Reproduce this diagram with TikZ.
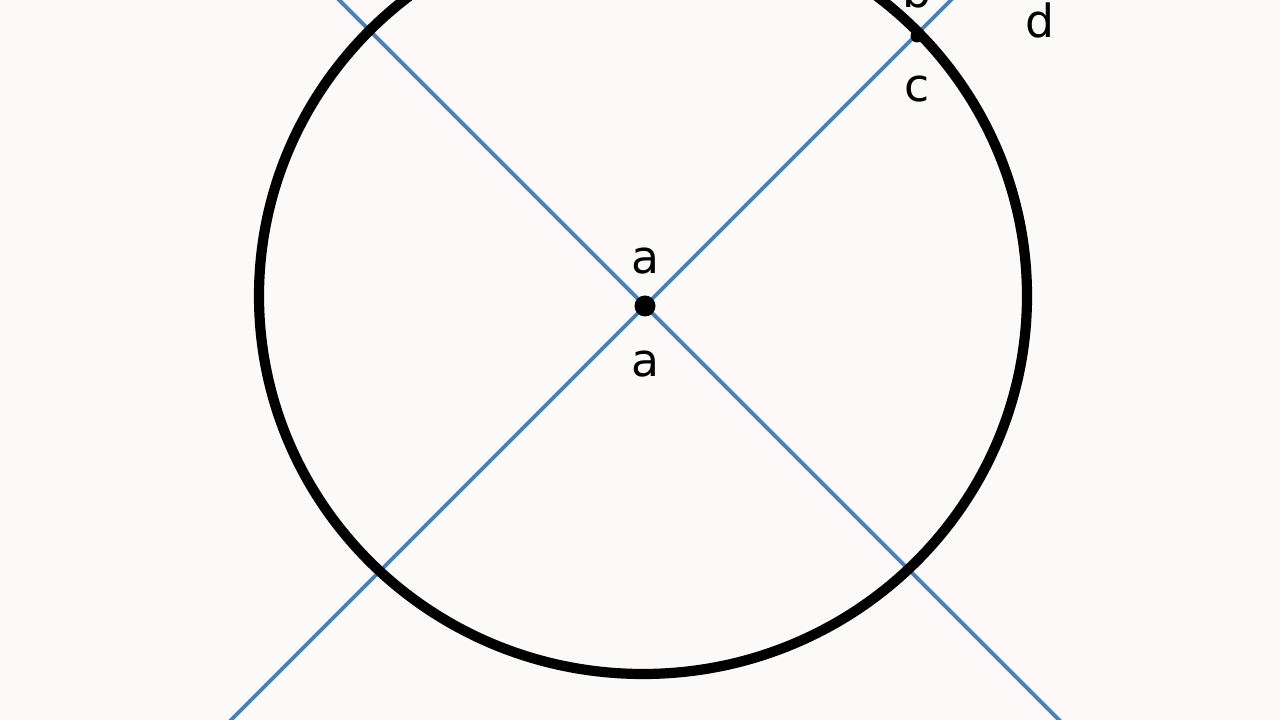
\documentclass[tikz,border=0pt]{standalone}
\usepackage{fontspec}
\setmainfont{DejaVu Sans}
\usetikzlibrary{calc}
\usetikzlibrary{positioning}
\definecolor{lineblue}{RGB}{74,128,186}
\definecolor{paper}{RGB}{251,250,249}

\begin{document}
\begin{tikzpicture}[
    lbl/.style={font=\fontsize{13}{15}\selectfont, inner sep=0pt},
    dot/.style={circle, fill=black, inner sep=0pt, minimum size=#1},
    ray/.style={lineblue, line width=1.1pt}]
    \fill[paper] (-6.45,-4.14) rectangle (6.35,3.06);
    \useasboundingbox (-6.45,-4.14) rectangle (6.35,3.06);
    \clip (-6.45,-4.14) rectangle (6.35,3.06);
    % the two rays through the centre point
    \coordinate (SW) at (-4.6,-4.6);
    \coordinate (NE) at (3.5,3.5);
    \coordinate (NW) at (-3.5,3.5);
    \coordinate (SE) at (4.6,-4.6);
    \draw[ray] (SW) -- (NE);
    \draw[ray] (NW) -- (SE);
    \draw[line width=2.9pt] (-0.02,0.10) ellipse (3.84 and 3.78);
    \node[dot=2.1mm] (O) at (0,0) {};
    \node[lbl, above=0.20cm of O] (a1) {a};
    \node[lbl, below=0.33cm of O] (a2) {a};
    \node[dot=1.3mm] (C) at (2.72,2.70) {};
    \node[lbl, below=0.32cm of C] (c) {c};
    \node[lbl, above=0.20cm of C] (b) {b};
    \node[lbl] (d) at (3.95,2.86) {d};
  \end{tikzpicture}
\end{document}
